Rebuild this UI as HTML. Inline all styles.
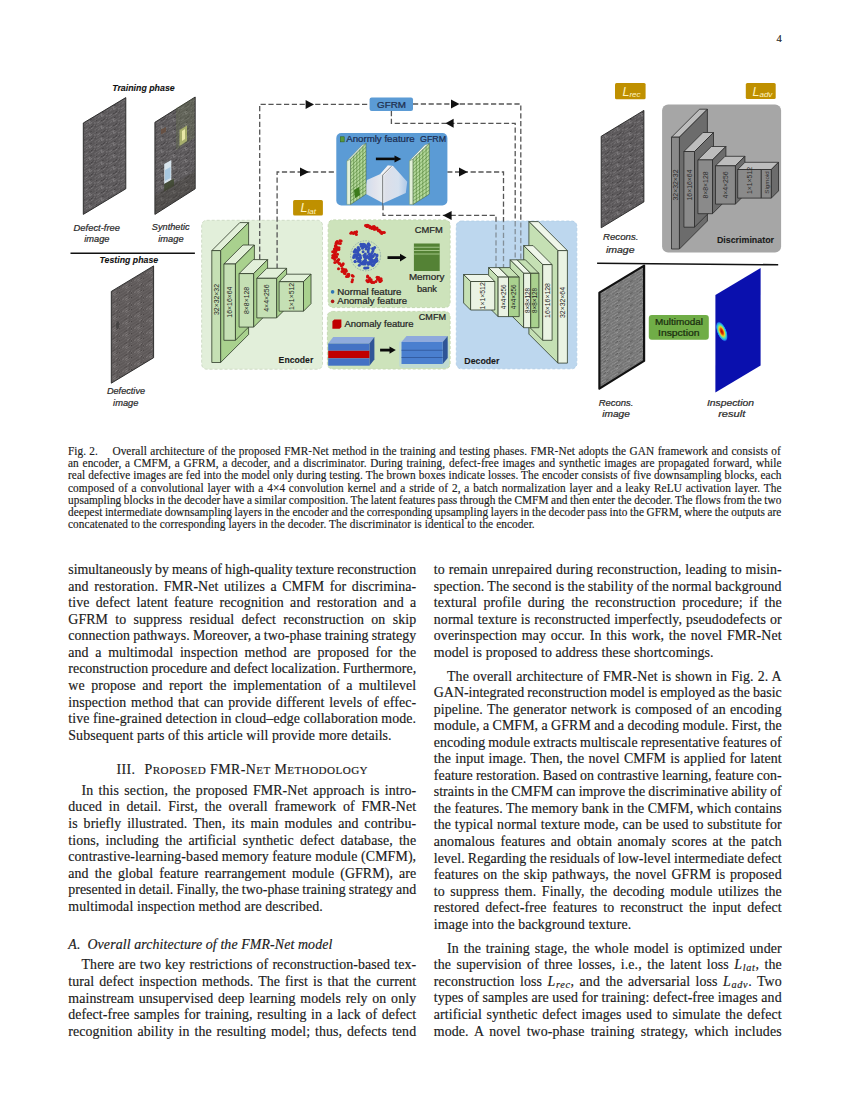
<!DOCTYPE html>
<html><head><meta charset="utf-8"><style>
*{margin:0;padding:0;box-sizing:border-box}
html,body{width:850px;height:1100px;background:#fff;overflow:hidden}
body{position:relative;font-family:"Liberation Serif",serif;color:#202020}
.ln{-webkit-text-stroke:0.16px #202020}
.ln{position:absolute;white-space:nowrap;overflow:visible}
.j{text-align:left}
.l{text-align:left}
.c{text-align:center}
.sc{font-size:0.8em}
i.m{font-style:italic}
sub.ms{font-style:italic;font-size:0.74em;vertical-align:-0.22em;line-height:0;letter-spacing:0.6px}
i.m{letter-spacing:0.8px}
#fig{position:absolute;left:0;top:0}
</style></head>
<body>
<svg id="fig" width="850" height="440" viewBox="0 0 850 440">
<defs>
<pattern id="tex" width="12" height="12" patternUnits="userSpaceOnUse" patternTransform="skewY(-31)"><rect width="12" height="12" fill="rgb(90, 87, 89)"/><rect y="0" width="12" height="1" fill="rgb(100,97,99)"/><rect y="3" width="12" height="1" fill="rgb(108,105,107)"/><rect y="6" width="12" height="1" fill="rgb(108,105,107)"/><rect y="9" width="12" height="1" fill="rgb(100,97,99)"/><rect x="5" y="9" width="3" height="1" fill="rgb(124, 121, 123)"/><rect x="9" y="1" width="1" height="1" fill="rgb(106, 103, 105)"/><rect x="4" y="8" width="1" height="1" fill="rgb(70, 67, 69)"/><rect x="11" y="7" width="3" height="1" fill="rgb(106, 103, 105)"/><rect x="10" y="2" width="1" height="1" fill="rgb(124, 121, 123)"/><rect x="2" y="8" width="3" height="1" fill="rgb(124, 121, 123)"/><rect x="0" y="10" width="1" height="1" fill="rgb(70, 67, 69)"/><rect x="9" y="0" width="2" height="1" fill="rgb(64, 61, 63)"/><rect x="4" y="7" width="3" height="1" fill="rgb(124, 121, 123)"/><rect x="6" y="6" width="3" height="1" fill="rgb(70, 67, 69)"/><rect x="5" y="1" width="1" height="1" fill="rgb(70, 67, 69)"/><rect x="7" y="3" width="2" height="1" fill="rgb(124, 121, 123)"/><rect x="6" y="10" width="2" height="1" fill="rgb(106, 103, 105)"/><rect x="8" y="6" width="2" height="1" fill="rgb(114, 111, 113)"/><rect x="9" y="6" width="1" height="1" fill="rgb(76, 73, 75)"/><rect x="10" y="0" width="2" height="1" fill="rgb(114, 111, 113)"/><rect x="10" y="11" width="1" height="1" fill="rgb(124, 121, 123)"/><rect x="5" y="8" width="1" height="1" fill="rgb(124, 121, 123)"/><rect x="10" y="3" width="2" height="1" fill="rgb(76, 73, 75)"/><rect x="1" y="1" width="3" height="1" fill="rgb(124, 121, 123)"/><rect x="7" y="1" width="2" height="1" fill="rgb(64, 61, 63)"/><rect x="6" y="2" width="1" height="1" fill="rgb(76, 73, 75)"/><rect x="6" y="6" width="1" height="1" fill="rgb(64, 61, 63)"/><rect x="9" y="9" width="1" height="1" fill="rgb(106, 103, 105)"/><rect x="11" y="9" width="2" height="1" fill="rgb(114, 111, 113)"/><rect x="4" y="8" width="1" height="1" fill="rgb(64, 61, 63)"/></pattern>
<pattern id="tex2" width="12" height="12" patternUnits="userSpaceOnUse" patternTransform="skewY(-31)"><rect width="12" height="12" fill="rgb(94, 89, 89)"/><rect y="0" width="12" height="1" fill="rgb(108,103,103)"/><rect y="3" width="12" height="1" fill="rgb(104,99,99)"/><rect y="6" width="12" height="1" fill="rgb(104,99,99)"/><rect y="9" width="12" height="1" fill="rgb(104,99,99)"/><rect x="9" y="8" width="1" height="1" fill="rgb(74, 69, 69)"/><rect x="6" y="4" width="2" height="1" fill="rgb(74, 69, 69)"/><rect x="11" y="0" width="2" height="1" fill="rgb(80, 75, 75)"/><rect x="5" y="2" width="3" height="1" fill="rgb(110, 105, 105)"/><rect x="7" y="8" width="3" height="1" fill="rgb(128, 123, 123)"/><rect x="9" y="10" width="1" height="1" fill="rgb(118, 113, 113)"/><rect x="8" y="4" width="3" height="1" fill="rgb(128, 123, 123)"/><rect x="11" y="11" width="1" height="1" fill="rgb(80, 75, 75)"/><rect x="6" y="4" width="2" height="1" fill="rgb(118, 113, 113)"/><rect x="5" y="0" width="3" height="1" fill="rgb(118, 113, 113)"/><rect x="5" y="0" width="3" height="1" fill="rgb(118, 113, 113)"/><rect x="9" y="10" width="1" height="1" fill="rgb(68, 63, 63)"/><rect x="10" y="10" width="2" height="1" fill="rgb(110, 105, 105)"/><rect x="5" y="10" width="2" height="1" fill="rgb(118, 113, 113)"/><rect x="11" y="4" width="3" height="1" fill="rgb(68, 63, 63)"/><rect x="9" y="0" width="1" height="1" fill="rgb(80, 75, 75)"/><rect x="4" y="10" width="3" height="1" fill="rgb(80, 75, 75)"/><rect x="9" y="9" width="2" height="1" fill="rgb(74, 69, 69)"/><rect x="5" y="2" width="2" height="1" fill="rgb(80, 75, 75)"/><rect x="9" y="4" width="2" height="1" fill="rgb(110, 105, 105)"/><rect x="1" y="0" width="1" height="1" fill="rgb(80, 75, 75)"/><rect x="8" y="3" width="2" height="1" fill="rgb(74, 69, 69)"/><rect x="5" y="2" width="3" height="1" fill="rgb(128, 123, 123)"/><rect x="11" y="1" width="1" height="1" fill="rgb(118, 113, 113)"/><rect x="5" y="5" width="1" height="1" fill="rgb(110, 105, 105)"/><rect x="2" y="1" width="2" height="1" fill="rgb(128, 123, 123)"/></pattern>
<pattern id="tex3" width="12" height="12" patternUnits="userSpaceOnUse" patternTransform="skewY(-31)"><rect width="12" height="12" fill="rgb(118, 118, 118)"/><rect y="0" width="12" height="1" fill="rgb(136,136,136)"/><rect y="3" width="12" height="1" fill="rgb(128,128,128)"/><rect y="6" width="12" height="1" fill="rgb(136,136,136)"/><rect y="9" width="12" height="1" fill="rgb(132,132,132)"/><rect x="4" y="3" width="1" height="1" fill="rgb(92, 92, 92)"/><rect x="8" y="3" width="2" height="1" fill="rgb(142, 142, 142)"/><rect x="2" y="4" width="2" height="1" fill="rgb(152, 152, 152)"/><rect x="1" y="9" width="2" height="1" fill="rgb(142, 142, 142)"/><rect x="2" y="6" width="2" height="1" fill="rgb(142, 142, 142)"/><rect x="4" y="7" width="2" height="1" fill="rgb(152, 152, 152)"/><rect x="6" y="4" width="3" height="1" fill="rgb(142, 142, 142)"/><rect x="6" y="0" width="3" height="1" fill="rgb(98, 98, 98)"/><rect x="3" y="0" width="3" height="1" fill="rgb(142, 142, 142)"/><rect x="8" y="6" width="1" height="1" fill="rgb(92, 92, 92)"/><rect x="11" y="7" width="2" height="1" fill="rgb(142, 142, 142)"/><rect x="5" y="3" width="1" height="1" fill="rgb(142, 142, 142)"/><rect x="4" y="1" width="1" height="1" fill="rgb(92, 92, 92)"/><rect x="0" y="11" width="1" height="1" fill="rgb(134, 134, 134)"/><rect x="9" y="0" width="1" height="1" fill="rgb(134, 134, 134)"/><rect x="11" y="1" width="1" height="1" fill="rgb(142, 142, 142)"/><rect x="4" y="3" width="1" height="1" fill="rgb(142, 142, 142)"/><rect x="8" y="6" width="1" height="1" fill="rgb(142, 142, 142)"/><rect x="1" y="5" width="1" height="1" fill="rgb(104, 104, 104)"/><rect x="8" y="7" width="1" height="1" fill="rgb(104, 104, 104)"/><rect x="3" y="3" width="1" height="1" fill="rgb(142, 142, 142)"/><rect x="1" y="2" width="1" height="1" fill="rgb(104, 104, 104)"/><rect x="2" y="0" width="3" height="1" fill="rgb(152, 152, 152)"/><rect x="9" y="6" width="1" height="1" fill="rgb(104, 104, 104)"/><rect x="3" y="4" width="3" height="1" fill="rgb(92, 92, 92)"/><rect x="7" y="5" width="1" height="1" fill="rgb(92, 92, 92)"/></pattern>

<pattern id="grid" width="3.2" height="3.2" patternUnits="userSpaceOnUse" patternTransform="skewY(-45)">
  <rect width="3.2" height="3.2" fill="#b8dca0"/>
  <rect width="3.2" height="0.55" fill="#4f7a34"/>
  <rect width="0.55" height="3.2" fill="#4f7a34"/>
</pattern>
<linearGradient id="prism" x1="0" y1="0" x2="1" y2="0">
  <stop offset="0" stop-color="#d6e2f0"/>
  <stop offset="0.25" stop-color="#ebe8ee"/>
  <stop offset="0.42" stop-color="#f2f2f2"/>
  <stop offset="0.5" stop-color="#e6e4ea"/>
  <stop offset="0.8" stop-color="#dfe6f0"/>
  <stop offset="1" stop-color="#b4cdea"/>
</linearGradient>
<radialGradient id="hot" cx="0.5" cy="0.5" r="0.5">
  <stop offset="0" stop-color="#b00000"/>
  <stop offset="0.25" stop-color="#e04000"/>
  <stop offset="0.45" stop-color="#f0d020"/>
  <stop offset="0.65" stop-color="#40e0c0"/>
  <stop offset="0.85" stop-color="#2080f0"/>
  <stop offset="1" stop-color="#0a10ae" stop-opacity="0"/>
</radialGradient>
</defs>
<text x="112.2" y="90.5" font-family="Liberation Sans, sans-serif" font-size="9.4" fill="#111" font-weight="bold" font-style="italic" textLength="62.5" lengthAdjust="spacingAndGlyphs" stroke="#111" stroke-width="0.1" >Training phase</text>
<polygon points="83.3,123.0 125.8,97.6 125.8,188.8 83.3,214.4" fill="url(#tex)" stroke="#222" stroke-width="0.9" stroke-linejoin="round" />
<polygon points="154.9,122.3 195.2,97.0 195.2,188.8 154.9,214.4" fill="url(#tex)" stroke="#222" stroke-width="0.9" stroke-linejoin="round" />
<polygon points="176.0,108.0 194.5,97.5 194.5,138.0 176.0,150.0" fill="#6a7a4a" opacity="0.25"/>
<polygon points="179.5,130.0 187.0,125.5 187.0,141.0 179.5,146.0" fill="#b8c070" opacity="0.8"/>
<polygon points="182.0,131.0 185.0,129.0 185.0,139.0 182.0,141.0" fill="#e8e8a8" />
<polygon points="161.0,129.5 166.0,127.0 166.0,132.0 161.0,134.5" fill="#6a5040" opacity="0.8"/>
<polygon points="164.2,164.0 171.3,160.0 171.3,180.0 164.2,184.0" fill="#d8e4ec" />
<polygon points="165.0,170.0 170.5,167.0 170.5,178.0 165.0,181.0" fill="#a8c8e0" />
<polygon points="164.2,184.0 174.0,178.5 174.0,186.0 164.2,191.5" fill="#3e4a30" opacity="0.8"/>
<polygon points="155.0,195.0 195.0,171.0 195.0,188.8 155.0,214.0" fill="#3c3830" opacity="0.35"/>
<text x="73.6" y="230.5" font-family="Liberation Sans, sans-serif" font-size="9.4" fill="#2a2a2a" font-weight="normal" font-style="italic" textLength="46.4" lengthAdjust="spacingAndGlyphs" stroke="#2a2a2a" stroke-width="0.22" >Defect-free</text>
<text x="84.2" y="242.3" font-family="Liberation Sans, sans-serif" font-size="9.4" fill="#2a2a2a" font-weight="normal" font-style="italic" textLength="25.3" lengthAdjust="spacingAndGlyphs" stroke="#2a2a2a" stroke-width="0.22" >image</text>
<text x="151.8" y="229.9" font-family="Liberation Sans, sans-serif" font-size="9.4" fill="#2a2a2a" font-weight="normal" font-style="italic" textLength="37.8" lengthAdjust="spacingAndGlyphs" stroke="#2a2a2a" stroke-width="0.22" >Synthetic</text>
<text x="158.2" y="242.0" font-family="Liberation Sans, sans-serif" font-size="9.4" fill="#2a2a2a" font-weight="normal" font-style="italic" textLength="25.4" lengthAdjust="spacingAndGlyphs" stroke="#2a2a2a" stroke-width="0.22" >image</text>
<line x1="70.5" y1="253.2" x2="194.9" y2="253.2" stroke="#111" stroke-width="1.6"/>
<text x="99.6" y="262.6" font-family="Liberation Sans, sans-serif" font-size="9.4" fill="#111" font-weight="bold" font-style="italic" textLength="58.6" lengthAdjust="spacingAndGlyphs" stroke="#111" stroke-width="0.1" >Testing phase</text>
<polygon points="111.3,291.4 153.6,265.9 153.6,357.7 111.3,383.2" fill="url(#tex2)" stroke="#222" stroke-width="0.9" stroke-linejoin="round" />
<ellipse cx="117.5" cy="325" rx="1.6" ry="4" fill="#333" opacity="0.55"/>
<text x="106.9" y="394.0" font-family="Liberation Sans, sans-serif" font-size="9.4" fill="#2a2a2a" font-weight="normal" font-style="italic" textLength="38.2" lengthAdjust="spacingAndGlyphs" stroke="#2a2a2a" stroke-width="0.22" >Defective</text>
<text x="113.1" y="405.9" font-family="Liberation Sans, sans-serif" font-size="9.4" fill="#2a2a2a" font-weight="normal" font-style="italic" textLength="25.4" lengthAdjust="spacingAndGlyphs" stroke="#2a2a2a" stroke-width="0.22" >image</text>
<rect x="201.7" y="220.3" width="120.8" height="148.9" rx="5" fill="#e2efda" stroke="#cfdcc6" stroke-width="1" stroke-dasharray="3,2"/>
<rect x="328.2" y="219.9" width="121.9" height="87.7" rx="5" fill="#cde3bb" stroke="#c4d9b2" stroke-width="1" stroke-dasharray="3,2"/>
<rect x="327.4" y="311.4" width="122.7" height="57.6" rx="5" fill="#cde3bb" stroke="#c4d9b2" stroke-width="1" stroke-dasharray="3,2"/>
<rect x="456.3" y="221.1" width="120.5" height="147.7" rx="5" fill="#bdd7ee" stroke="#b3cfe8" stroke-width="1" stroke-dasharray="3,2"/>
<polyline points="259.7,259.5 259.7,104.4 369.6,104.4" fill="none" stroke="#555" stroke-width="1.3" stroke-dasharray="5.2,2.6"/>
<polygon points="305.6,99.9 314.0,104.4 305.6,108.9" fill="#111" />
<polyline points="413.0,104.0 520.8,104.0 520.8,260.5" fill="none" stroke="#555" stroke-width="1.3" stroke-dasharray="5.2,2.6"/>
<polygon points="451.0,99.5 459.5,104.0 451.0,108.5" fill="#111" />
<polyline points="391.4,111.0 391.4,123.3 515.2,123.3 515.2,260.5" fill="none" stroke="#555" stroke-width="1.3" stroke-dasharray="5.2,2.6"/>
<polygon points="453.6,118.8 445.5,123.3 453.6,127.8" fill="#111" />
<polyline points="277.1,268.6 277.1,172.0 336.4,172.0" fill="none" stroke="#555" stroke-width="1.3" stroke-dasharray="5.2,2.6"/>
<polygon points="300.0,167.5 309.0,172.0 300.0,176.5" fill="#111" />
<polyline points="447.2,172.0 503.5,172.0 503.5,267.5" fill="none" stroke="#555" stroke-width="1.3" stroke-dasharray="5.2,2.6"/>
<polygon points="459.0,167.5 467.7,172.0 459.0,176.5" fill="#111" />
<polyline points="383.0,205.0 383.0,215.4 496.0,215.4 496.0,267.5" fill="none" stroke="#555" stroke-width="1.3" stroke-dasharray="5.2,2.6"/>
<polygon points="451.6,210.9 443.0,215.4 451.6,219.9" fill="#111" />
<rect x="456.8" y="221.6" width="119.5" height="146.7" rx="5" fill="#bdd7ee" opacity="0.45"/>
<polygon points="211.8,250.6 239.8,222.6 248.6,222.6 220.6,250.6" fill="#e2f0d9" stroke="#2f3b28" stroke-width="0.8" stroke-linejoin="round" /><polygon points="220.6,250.6 248.6,222.6 248.6,334.5 220.6,362.5" fill="#a9d18e" stroke="#2f3b28" stroke-width="0.8" stroke-linejoin="round" /><polygon points="211.8,250.6 220.6,250.6 220.6,362.5 211.8,362.5" fill="#c5e0b4" stroke="#2f3b28" stroke-width="0.8" stroke-linejoin="round" /><text x="216.2" y="299.5" font-family="Liberation Sans, sans-serif" font-size="6.9" fill="#222" text-anchor="middle" dominant-baseline="central" transform="rotate(-90 216.2 299.5)">32×32×32</text>
<polygon points="223.9,264.0 242.9,245.0 254.4,245.0 235.4,264.0" fill="#e2f0d9" stroke="#2f3b28" stroke-width="0.8" stroke-linejoin="round" /><polygon points="235.4,264.0 254.4,245.0 254.4,321.3 235.4,340.3" fill="#a9d18e" stroke="#2f3b28" stroke-width="0.8" stroke-linejoin="round" /><polygon points="223.9,264.0 235.4,264.0 235.4,340.3 223.9,340.3" fill="#c5e0b4" stroke="#2f3b28" stroke-width="0.8" stroke-linejoin="round" /><text x="229.7" y="302.1" font-family="Liberation Sans, sans-serif" font-size="6.9" fill="#222" text-anchor="middle" dominant-baseline="central" transform="rotate(-90 229.7 302.1)">16×16×64</text>
<polygon points="239.1,273.6 253.1,259.6 267.6,259.6 253.6,273.6" fill="#e2f0d9" stroke="#2f3b28" stroke-width="0.8" stroke-linejoin="round" /><polygon points="253.6,273.6 267.6,259.6 267.6,313.1 253.6,327.1" fill="#a9d18e" stroke="#2f3b28" stroke-width="0.8" stroke-linejoin="round" /><polygon points="239.1,273.6 253.6,273.6 253.6,327.1 239.1,327.1" fill="#c5e0b4" stroke="#2f3b28" stroke-width="0.8" stroke-linejoin="round" /><text x="246.3" y="300.4" font-family="Liberation Sans, sans-serif" font-size="6.9" fill="#222" text-anchor="middle" dominant-baseline="central" transform="rotate(-90 246.3 300.4)">8×8×128</text>
<polygon points="256.8,278.3 266.8,268.3 286.6,268.3 276.6,278.3" fill="#e2f0d9" stroke="#2f3b28" stroke-width="0.8" stroke-linejoin="round" /><polygon points="276.6,278.3 286.6,268.3 286.6,307.9 276.6,317.9" fill="#a9d18e" stroke="#2f3b28" stroke-width="0.8" stroke-linejoin="round" /><polygon points="256.8,278.3 276.6,278.3 276.6,317.9 256.8,317.9" fill="#c5e0b4" stroke="#2f3b28" stroke-width="0.8" stroke-linejoin="round" /><text x="266.7" y="298.1" font-family="Liberation Sans, sans-serif" font-size="6.9" fill="#222" text-anchor="middle" dominant-baseline="central" transform="rotate(-90 266.7 298.1)">4×4×256</text>
<polygon points="279.1,281.7 286.6,274.2 311.0,274.2 303.5,281.7" fill="#e2f0d9" stroke="#2f3b28" stroke-width="0.8" stroke-linejoin="round" /><polygon points="303.5,281.7 311.0,274.2 311.0,303.7 303.5,311.2" fill="#a9d18e" stroke="#2f3b28" stroke-width="0.8" stroke-linejoin="round" /><polygon points="279.1,281.7 303.5,281.7 303.5,311.2 279.1,311.2" fill="#c5e0b4" stroke="#2f3b28" stroke-width="0.8" stroke-linejoin="round" /><text x="291.3" y="296.4" font-family="Liberation Sans, sans-serif" font-size="6.9" fill="#222" text-anchor="middle" dominant-baseline="central" transform="rotate(-90 291.3 296.4)">1×1×512</text>
<text x="278.6" y="363.0" font-family="Liberation Sans, sans-serif" font-size="9.8" fill="#1a1a1a" font-weight="bold" font-style="normal" textLength="34.7" lengthAdjust="spacingAndGlyphs" stroke="#1a1a1a" stroke-width="0.1" >Encoder</text>
<rect x="293.1" y="200.1" width="29.8" height="15.5" rx="1.5" fill="#bf9000"/>
<text x="300.5" y="212.0" font-family="Liberation Sans, sans-serif" font-size="12.5" fill="#fff4c0" font-style="italic">L<tspan font-size="8" dy="1.8">lat</tspan></text>
<polygon points="557.9,250.6 528.9,221.6 538.4,221.6 567.4,250.6" fill="#eef6e9" stroke="#2f3b28" stroke-width="0.8" stroke-linejoin="round" /><polygon points="557.9,250.6 528.9,221.6 528.9,334.1 557.9,363.1" fill="#c5e0b4" stroke="#2f3b28" stroke-width="0.8" stroke-linejoin="round" /><polygon points="557.9,250.6 567.4,250.6 567.4,363.1 557.9,363.1" fill="#eaf3e3" stroke="#2f3b28" stroke-width="0.8" stroke-linejoin="round" /><text x="562.6" y="302.5" font-family="Liberation Sans, sans-serif" font-size="6.9" fill="#222" text-anchor="middle" dominant-baseline="central" transform="rotate(-90 562.6 302.5)">32×32×64</text>
<polygon points="542.7,264.6 523.7,245.6 533.1,245.6 552.1,264.6" fill="#eef6e9" stroke="#2f3b28" stroke-width="0.8" stroke-linejoin="round" /><polygon points="542.7,264.6 523.7,245.6 523.7,321.3 542.7,340.3" fill="#c5e0b4" stroke="#2f3b28" stroke-width="0.8" stroke-linejoin="round" /><polygon points="542.7,264.6 552.1,264.6 552.1,340.3 542.7,340.3" fill="#eaf3e3" stroke="#2f3b28" stroke-width="0.8" stroke-linejoin="round" /><text x="547.4" y="300.5" font-family="Liberation Sans, sans-serif" font-size="6.9" fill="#222" text-anchor="middle" dominant-baseline="central" transform="rotate(-90 547.4 300.5)">16×16×128</text>
<polygon points="523.6,273.3 510.1,259.8 517.2,259.8 530.7,273.3" fill="#eef6e9" stroke="#2f3b28" stroke-width="0.8" stroke-linejoin="round" /><polygon points="530.7,273.3 517.2,259.8 525.4,259.8 538.9,273.3" fill="#c5e0b4" stroke="#2f3b28" stroke-width="0.8" stroke-linejoin="round" /><polygon points="523.6,273.3 510.1,259.8 510.1,314.2 523.6,327.7" fill="#c5e0b4" stroke="#2f3b28" stroke-width="0.8" stroke-linejoin="round" /><polygon points="523.6,273.3 530.7,273.3 530.7,327.7 523.6,327.7" fill="#eaf3e3" stroke="#2f3b28" stroke-width="0.8" stroke-linejoin="round" /><polygon points="530.7,273.3 538.9,273.3 538.9,327.7 530.7,327.7" fill="#a9d18e" stroke="#2f3b28" stroke-width="0.8" stroke-linejoin="round" /><text x="527.2" y="300.5" font-family="Liberation Sans, sans-serif" font-size="6.3" fill="#222" text-anchor="middle" dominant-baseline="central" transform="rotate(-90 527.2 300.5)">8×8×128</text><text x="534.8" y="300.5" font-family="Liberation Sans, sans-serif" font-size="6.3" fill="#222" text-anchor="middle" dominant-baseline="central" transform="rotate(-90 534.8 300.5)">8×8×128</text>
<polygon points="498.1,277.1 488.6,267.6 499.0,267.6 508.5,277.1" fill="#eef6e9" stroke="#2f3b28" stroke-width="0.8" stroke-linejoin="round" /><polygon points="508.5,277.1 499.0,267.6 509.7,267.6 519.2,277.1" fill="#c5e0b4" stroke="#2f3b28" stroke-width="0.8" stroke-linejoin="round" /><polygon points="498.1,277.1 488.6,267.6 488.6,307.1 498.1,316.6" fill="#c5e0b4" stroke="#2f3b28" stroke-width="0.8" stroke-linejoin="round" /><polygon points="498.1,277.1 508.5,277.1 508.5,316.6 498.1,316.6" fill="#eaf3e3" stroke="#2f3b28" stroke-width="0.8" stroke-linejoin="round" /><polygon points="508.5,277.1 519.2,277.1 519.2,316.6 508.5,316.6" fill="#a9d18e" stroke="#2f3b28" stroke-width="0.8" stroke-linejoin="round" /><text x="503.3" y="296.9" font-family="Liberation Sans, sans-serif" font-size="6.3" fill="#222" text-anchor="middle" dominant-baseline="central" transform="rotate(-90 503.3 296.9)">4×4×256</text><text x="513.9" y="296.9" font-family="Liberation Sans, sans-serif" font-size="6.3" fill="#222" text-anchor="middle" dominant-baseline="central" transform="rotate(-90 513.9 296.9)">4×4×256</text>
<polygon points="470.6,281.5 463.6,274.5 487.8,274.5 494.8,281.5" fill="#eef6e9" stroke="#2f3b28" stroke-width="0.8" stroke-linejoin="round" /><polygon points="470.6,281.5 463.6,274.5 463.6,303.0 470.6,310.0" fill="#c5e0b4" stroke="#2f3b28" stroke-width="0.8" stroke-linejoin="round" /><polygon points="470.6,281.5 494.8,281.5 494.8,310.0 470.6,310.0" fill="#eaf3e3" stroke="#2f3b28" stroke-width="0.8" stroke-linejoin="round" /><text x="482.7" y="295.8" font-family="Liberation Sans, sans-serif" font-size="6.9" fill="#222" text-anchor="middle" dominant-baseline="central" transform="rotate(-90 482.7 295.8)">1×1×512</text>
<text x="464.3" y="364.3" font-family="Liberation Sans, sans-serif" font-size="9.8" fill="#1a1a1a" font-weight="bold" font-style="normal" textLength="35.1" lengthAdjust="spacingAndGlyphs" stroke="#1a1a1a" stroke-width="0.1" >Decoder</text>
<rect x="369.6" y="97.4" width="43.4" height="13.6" rx="2" fill="#5b9bd5"/>
<text x="377.0" y="107.9" font-family="Liberation Sans, sans-serif" font-size="8.2" fill="#1f2f4f" font-weight="normal" font-style="normal" textLength="29.0" lengthAdjust="spacingAndGlyphs" stroke="#1f2f4f" stroke-width="0.22" >GFRM</text>
<rect x="336.3" y="133.1" width="111.1" height="72.3" rx="5" fill="#5b9bd5"/>
<rect x="340.3" y="136.8" width="3.9" height="5.1" fill="#5a9a3a" stroke="#2a5a1a" stroke-width="0.5"/>
<text x="346.2" y="141.8" font-family="Liberation Sans, sans-serif" font-size="8.4" fill="#1c2e52" font-weight="normal" font-style="normal" textLength="68.4" lengthAdjust="spacingAndGlyphs" stroke="#1c2e52" stroke-width="0.22" >Anormly feature</text>
<text x="420.0" y="141.8" font-family="Liberation Sans, sans-serif" font-size="8.4" fill="#1c2e52" font-weight="normal" font-style="normal" textLength="26.2" lengthAdjust="spacingAndGlyphs" stroke="#1c2e52" stroke-width="0.22" >GFRM</text>
<polygon points="364.2,193.0 367.0,180.0 380.4,174.0 387.8,165.6 393.1,166.0 407.2,181.8 405.8,193.1 383.2,203.2" fill="url(#prism)" opacity="0.93"/>
<polygon points="380.4,174.0 387.8,165.6 393.1,166.0 384.5,175.0" fill="#f6f6f6" opacity="0.8"/>
<polyline points="391.5,166.2 382.6,175.2 382.6,205.5" fill="none" stroke="#555" stroke-width="0.7"/>
<polygon points="346.9,161.0 362.3,145.0 366.0,143.4 350.6,159.2" fill="#f0f7ec" stroke="#6a8a5a" stroke-width="0.4" stroke-linejoin="round" />
<polygon points="346.9,161.0 350.6,159.2 350.6,204.4 346.9,204.4" fill="#e2f0d9" stroke="#6a8a5a" stroke-width="0.4" stroke-linejoin="round" />
<polygon points="350.6,159.2 366.0,143.4 366.0,194.1 350.6,204.4" fill="#b5d99c" stroke="#3d5a2c" stroke-width="0.5" stroke-linejoin="round" />
<path d="M353.7,156.0L353.7,202.3M356.8,152.9L356.8,200.3M359.8,149.7L359.8,198.2M362.9,146.6L362.9,196.2M350.6,162.7L366.0,147.3M350.6,166.2L366.0,151.2M350.6,169.6L366.0,155.1M350.6,173.1L366.0,159.0M350.6,176.6L366.0,162.9M350.6,180.1L366.0,166.8M350.6,183.5L366.0,170.7M350.6,187.0L366.0,174.6M350.6,190.5L366.0,178.5M350.6,194.0L366.0,182.4M350.6,197.4L366.0,186.3M350.6,200.9L366.0,190.2" stroke="#4a7a30" stroke-width="0.55" fill="none"/>
<polygon points="409.4,161.0 424.8,145.0 429.3,143.4 413.1,159.2" fill="#f0f7ec" stroke="#6a8a5a" stroke-width="0.4" stroke-linejoin="round" />
<polygon points="409.4,161.0 413.1,159.2 413.1,204.4 409.4,204.4" fill="#e2f0d9" stroke="#6a8a5a" stroke-width="0.4" stroke-linejoin="round" />
<polygon points="413.1,159.2 429.3,143.4 429.3,194.1 413.1,204.4" fill="#b5d99c" stroke="#3d5a2c" stroke-width="0.5" stroke-linejoin="round" />
<path d="M416.3,156.0L416.3,202.3M419.6,152.9L419.6,200.3M422.8,149.7L422.8,198.2M426.1,146.6L426.1,196.2M413.1,162.7L429.3,147.3M413.1,166.2L429.3,151.2M413.1,169.6L429.3,155.1M413.1,173.1L429.3,159.0M413.1,176.6L429.3,162.9M413.1,180.1L429.3,166.8M413.1,183.5L429.3,170.7M413.1,187.0L429.3,174.6M413.1,190.5L429.3,178.5M413.1,194.0L429.3,182.4M413.1,197.4L429.3,186.3M413.1,200.9L429.3,190.2" stroke="#4a7a30" stroke-width="0.55" fill="none"/>
<polygon points="354.0,190.0 359.0,187.0 360.0,195.0 355.0,198.0" fill="#3c7a1c" />
<rect x="375.9" y="157.6" width="19" height="2.6" fill="#0a0a0a"/>
<polygon points="394.5,155.4 401.3,158.9 394.5,162.4" fill="#0a0a0a" />
<text x="414.7" y="233.4" font-family="Liberation Sans, sans-serif" font-size="8.4" fill="#262626" font-weight="normal" font-style="normal" textLength="28.0" lengthAdjust="spacingAndGlyphs" stroke="#262626" stroke-width="0.22" >CMFM</text>
<circle cx="365.5" cy="225.5" r="1.5" fill="#d00c0c"/>
<circle cx="367.1" cy="225.3" r="1.5" fill="#d00c0c"/>
<circle cx="367.5" cy="226.2" r="1.5" fill="#d00c0c"/>
<circle cx="366.8" cy="226.6" r="1.5" fill="#d00c0c"/>
<circle cx="367.4" cy="226.5" r="1.5" fill="#d00c0c"/>
<circle cx="368.2" cy="225.6" r="1.5" fill="#d00c0c"/>
<circle cx="369.9" cy="227.8" r="1.5" fill="#d00c0c"/>
<circle cx="369.7" cy="226.3" r="1.5" fill="#d00c0c"/>
<circle cx="371.8" cy="228.5" r="1.5" fill="#d00c0c"/>
<circle cx="372.3" cy="227.1" r="1.5" fill="#d00c0c"/>
<circle cx="374.1" cy="226.4" r="1.5" fill="#d00c0c"/>
<circle cx="374.5" cy="227.3" r="1.5" fill="#d00c0c"/>
<circle cx="373.2" cy="227.0" r="1.5" fill="#d00c0c"/>
<circle cx="374.3" cy="229.3" r="1.5" fill="#d00c0c"/>
<circle cx="374.6" cy="228.9" r="1.5" fill="#d00c0c"/>
<circle cx="376.6" cy="228.7" r="1.5" fill="#d00c0c"/>
<circle cx="377.0" cy="228.1" r="1.5" fill="#d00c0c"/>
<circle cx="376.3" cy="228.9" r="1.5" fill="#d00c0c"/>
<circle cx="378.7" cy="229.9" r="1.5" fill="#d00c0c"/>
<circle cx="378.4" cy="230.8" r="1.5" fill="#d00c0c"/>
<circle cx="379.5" cy="230.4" r="1.5" fill="#d00c0c"/>
<circle cx="381.1" cy="232.0" r="1.5" fill="#d00c0c"/>
<circle cx="380.2" cy="232.1" r="1.5" fill="#d00c0c"/>
<circle cx="381.7" cy="233.5" r="1.5" fill="#d00c0c"/>
<circle cx="383.0" cy="232.4" r="1.5" fill="#d00c0c"/>
<circle cx="384.3" cy="232.4" r="1.5" fill="#d00c0c"/>
<circle cx="353.4" cy="233.6" r="1.5" fill="#d00c0c"/>
<circle cx="351.6" cy="232.5" r="1.5" fill="#d00c0c"/>
<circle cx="350.8" cy="233.2" r="1.5" fill="#d00c0c"/>
<circle cx="355.9" cy="232.8" r="1.5" fill="#d00c0c"/>
<circle cx="356.6" cy="231.7" r="1.5" fill="#d00c0c"/>
<circle cx="355.4" cy="232.9" r="1.5" fill="#d00c0c"/>
<circle cx="354.6" cy="232.3" r="1.5" fill="#d00c0c"/>
<circle cx="356.4" cy="234.5" r="1.5" fill="#d00c0c"/>
<circle cx="339.9" cy="240.8" r="1.5" fill="#d00c0c"/>
<circle cx="337.3" cy="241.6" r="1.5" fill="#d00c0c"/>
<circle cx="340.3" cy="243.6" r="1.5" fill="#d00c0c"/>
<circle cx="341.1" cy="240.9" r="1.5" fill="#d00c0c"/>
<circle cx="338.4" cy="243.3" r="1.5" fill="#d00c0c"/>
<circle cx="336.1" cy="243.0" r="1.5" fill="#d00c0c"/>
<circle cx="336.7" cy="242.0" r="1.5" fill="#d00c0c"/>
<circle cx="335.9" cy="245.7" r="1.5" fill="#d00c0c"/>
<circle cx="336.0" cy="243.9" r="1.5" fill="#d00c0c"/>
<circle cx="337.2" cy="247.5" r="1.5" fill="#d00c0c"/>
<circle cx="335.3" cy="246.1" r="1.5" fill="#d00c0c"/>
<circle cx="337.7" cy="248.8" r="1.5" fill="#d00c0c"/>
<circle cx="338.9" cy="249.4" r="1.5" fill="#d00c0c"/>
<circle cx="335.7" cy="247.8" r="1.5" fill="#d00c0c"/>
<circle cx="335.9" cy="250.7" r="1.5" fill="#d00c0c"/>
<circle cx="339.0" cy="247.8" r="1.5" fill="#d00c0c"/>
<circle cx="334.4" cy="248.9" r="1.5" fill="#d00c0c"/>
<circle cx="334.5" cy="250.7" r="1.5" fill="#d00c0c"/>
<circle cx="336.2" cy="250.3" r="1.5" fill="#d00c0c"/>
<circle cx="332.7" cy="251.7" r="1.5" fill="#d00c0c"/>
<circle cx="334.5" cy="253.0" r="1.5" fill="#d00c0c"/>
<circle cx="337.5" cy="254.2" r="1.5" fill="#d00c0c"/>
<circle cx="334.8" cy="254.5" r="1.5" fill="#d00c0c"/>
<circle cx="335.5" cy="252.5" r="1.5" fill="#d00c0c"/>
<circle cx="336.5" cy="256.6" r="1.5" fill="#d00c0c"/>
<circle cx="336.1" cy="257.3" r="1.5" fill="#d00c0c"/>
<circle cx="333.8" cy="256.0" r="1.5" fill="#d00c0c"/>
<circle cx="332.6" cy="257.7" r="1.5" fill="#d00c0c"/>
<circle cx="332.8" cy="255.6" r="1.5" fill="#d00c0c"/>
<circle cx="334.1" cy="256.7" r="1.5" fill="#d00c0c"/>
<circle cx="335.3" cy="256.8" r="1.5" fill="#d00c0c"/>
<circle cx="333.8" cy="257.9" r="1.5" fill="#d00c0c"/>
<circle cx="334.8" cy="259.5" r="1.5" fill="#d00c0c"/>
<circle cx="334.8" cy="262.6" r="1.5" fill="#d00c0c"/>
<circle cx="338.6" cy="259.6" r="1.5" fill="#d00c0c"/>
<circle cx="337.0" cy="261.2" r="1.5" fill="#d00c0c"/>
<circle cx="338.1" cy="260.6" r="1.5" fill="#d00c0c"/>
<circle cx="341.4" cy="265.7" r="1.5" fill="#d00c0c"/>
<circle cx="339.6" cy="263.7" r="1.5" fill="#d00c0c"/>
<circle cx="337.7" cy="262.3" r="1.5" fill="#d00c0c"/>
<circle cx="339.7" cy="263.7" r="1.5" fill="#d00c0c"/>
<circle cx="343.2" cy="263.8" r="1.5" fill="#d00c0c"/>
<circle cx="338.5" cy="268.7" r="1.5" fill="#d00c0c"/>
<circle cx="342.2" cy="264.9" r="1.5" fill="#d00c0c"/>
<circle cx="342.7" cy="264.8" r="1.5" fill="#d00c0c"/>
<circle cx="343.1" cy="270.8" r="1.5" fill="#d00c0c"/>
<circle cx="345.8" cy="269.8" r="1.5" fill="#d00c0c"/>
<circle cx="342.2" cy="268.5" r="1.5" fill="#d00c0c"/>
<circle cx="342.0" cy="271.5" r="1.5" fill="#d00c0c"/>
<circle cx="344.9" cy="272.2" r="1.5" fill="#d00c0c"/>
<circle cx="344.0" cy="269.4" r="1.5" fill="#d00c0c"/>
<circle cx="347.8" cy="274.7" r="1.5" fill="#d00c0c"/>
<circle cx="348.5" cy="274.2" r="1.5" fill="#d00c0c"/>
<circle cx="348.8" cy="274.4" r="1.5" fill="#d00c0c"/>
<circle cx="345.0" cy="273.6" r="1.5" fill="#d00c0c"/>
<circle cx="346.4" cy="271.1" r="1.5" fill="#d00c0c"/>
<circle cx="344.4" cy="273.3" r="1.5" fill="#d00c0c"/>
<circle cx="346.5" cy="276.6" r="1.5" fill="#d00c0c"/>
<circle cx="352.2" cy="275.6" r="1.5" fill="#d00c0c"/>
<circle cx="352.5" cy="279.8" r="1.5" fill="#d00c0c"/>
<circle cx="353.1" cy="276.3" r="1.5" fill="#d00c0c"/>
<circle cx="348.0" cy="275.9" r="1.5" fill="#d00c0c"/>
<circle cx="348.2" cy="276.3" r="1.5" fill="#d00c0c"/>
<circle cx="352.0" cy="281.8" r="1.5" fill="#d00c0c"/>
<circle cx="378.9" cy="279.4" r="1.5" fill="#d00c0c"/>
<circle cx="375.9" cy="281.6" r="1.5" fill="#d00c0c"/>
<circle cx="366.9" cy="280.6" r="1.5" fill="#d00c0c"/>
<circle cx="380.1" cy="281.5" r="1.5" fill="#d00c0c"/>
<circle cx="377.5" cy="279.3" r="1.5" fill="#d00c0c"/>
<circle cx="368.4" cy="281.5" r="1.5" fill="#d00c0c"/>
<circle cx="370.8" cy="281.6" r="1.5" fill="#d00c0c"/>
<circle cx="381.0" cy="278.8" r="1.5" fill="#d00c0c"/>
<circle cx="371.9" cy="282.6" r="1.5" fill="#d00c0c"/>
<circle cx="377.1" cy="277.2" r="1.5" fill="#d00c0c"/>
<circle cx="367.5" cy="277.1" r="1.5" fill="#d00c0c"/>
<circle cx="380.0" cy="281.6" r="1.5" fill="#d00c0c"/>
<circle cx="367.8" cy="281.8" r="1.5" fill="#d00c0c"/>
<circle cx="381.2" cy="280.6" r="1.5" fill="#d00c0c"/>
<circle cx="371.1" cy="279.8" r="1.5" fill="#d00c0c"/>
<circle cx="367.6" cy="276.1" r="1.5" fill="#d00c0c"/>
<circle cx="381.0" cy="280.5" r="1.5" fill="#d00c0c"/>
<circle cx="373.9" cy="282.5" r="1.5" fill="#d00c0c"/>
<circle cx="372.4" cy="282.1" r="1.5" fill="#d00c0c"/>
<circle cx="378.7" cy="277.5" r="1.5" fill="#d00c0c"/>
<circle cx="369.5" cy="278.1" r="1.5" fill="#d00c0c"/>
<circle cx="369.3" cy="280.1" r="1.5" fill="#d00c0c"/>
<circle cx="365.1" cy="263.9" r="1.5" fill="#3350b8"/>
<circle cx="373.7" cy="264.5" r="1.5" fill="#3350b8"/>
<circle cx="360.5" cy="262.5" r="1.5" fill="#3350b8"/>
<circle cx="355.3" cy="249.9" r="1.5" fill="#3350b8"/>
<circle cx="355.1" cy="261.5" r="1.5" fill="#3350b8"/>
<circle cx="356.5" cy="255.7" r="1.5" fill="#3350b8"/>
<circle cx="363.9" cy="255.5" r="1.5" fill="#3350b8"/>
<circle cx="360.6" cy="257.8" r="1.5" fill="#3350b8"/>
<circle cx="376.8" cy="256.1" r="1.5" fill="#3350b8"/>
<circle cx="369.6" cy="263.4" r="1.5" fill="#3350b8"/>
<circle cx="364.2" cy="246.6" r="1.5" fill="#3350b8"/>
<circle cx="361.5" cy="263.8" r="1.5" fill="#3350b8"/>
<circle cx="355.2" cy="252.0" r="1.5" fill="#3350b8"/>
<circle cx="373.0" cy="261.6" r="1.5" fill="#3350b8"/>
<circle cx="365.7" cy="262.4" r="1.5" fill="#3350b8"/>
<circle cx="366.8" cy="247.0" r="1.5" fill="#3350b8"/>
<circle cx="355.5" cy="251.7" r="1.5" fill="#3350b8"/>
<circle cx="372.7" cy="251.5" r="1.5" fill="#3350b8"/>
<circle cx="358.8" cy="250.0" r="1.5" fill="#3350b8"/>
<circle cx="355.2" cy="255.0" r="1.5" fill="#3350b8"/>
<circle cx="356.9" cy="258.5" r="1.5" fill="#3350b8"/>
<circle cx="353.6" cy="257.5" r="1.5" fill="#3350b8"/>
<circle cx="361.9" cy="244.7" r="1.5" fill="#3350b8"/>
<circle cx="371.6" cy="253.5" r="1.5" fill="#3350b8"/>
<circle cx="354.3" cy="251.4" r="1.5" fill="#3350b8"/>
<circle cx="368.1" cy="251.9" r="1.5" fill="#3350b8"/>
<circle cx="371.6" cy="261.6" r="1.5" fill="#3350b8"/>
<circle cx="371.1" cy="258.5" r="1.5" fill="#3350b8"/>
<circle cx="374.8" cy="260.3" r="1.5" fill="#3350b8"/>
<circle cx="368.1" cy="244.2" r="1.5" fill="#3350b8"/>
<circle cx="371.6" cy="264.5" r="1.5" fill="#3350b8"/>
<circle cx="363.1" cy="251.8" r="1.5" fill="#3350b8"/>
<circle cx="374.7" cy="247.5" r="1.5" fill="#3350b8"/>
<circle cx="367.9" cy="267.8" r="1.5" fill="#3350b8"/>
<circle cx="358.6" cy="261.0" r="1.5" fill="#3350b8"/>
<circle cx="377.0" cy="255.1" r="1.5" fill="#3350b8"/>
<circle cx="369.9" cy="262.8" r="1.5" fill="#3350b8"/>
<circle cx="358.4" cy="255.1" r="1.5" fill="#3350b8"/>
<circle cx="368.0" cy="262.4" r="1.5" fill="#3350b8"/>
<circle cx="365.3" cy="254.1" r="1.5" fill="#3350b8"/>
<circle cx="357.8" cy="253.0" r="1.5" fill="#3350b8"/>
<circle cx="372.8" cy="256.6" r="1.5" fill="#3350b8"/>
<circle cx="359.2" cy="249.5" r="1.5" fill="#3350b8"/>
<circle cx="377.0" cy="260.7" r="1.5" fill="#3350b8"/>
<circle cx="368.5" cy="243.8" r="1.5" fill="#3350b8"/>
<circle cx="370.7" cy="259.7" r="1.5" fill="#3350b8"/>
<circle cx="376.3" cy="258.5" r="1.5" fill="#3350b8"/>
<circle cx="365.0" cy="260.3" r="1.5" fill="#3350b8"/>
<circle cx="355.1" cy="261.4" r="1.5" fill="#3350b8"/>
<circle cx="368.3" cy="250.0" r="1.5" fill="#3350b8"/>
<circle cx="372.7" cy="265.5" r="1.5" fill="#3350b8"/>
<circle cx="356.2" cy="251.3" r="1.5" fill="#3350b8"/>
<circle cx="368.1" cy="257.4" r="1.5" fill="#3350b8"/>
<circle cx="362.5" cy="248.3" r="1.5" fill="#3350b8"/>
<circle cx="376.5" cy="261.1" r="1.5" fill="#3350b8"/>
<circle cx="358.2" cy="247.4" r="1.5" fill="#3350b8"/>
<circle cx="375.6" cy="261.6" r="1.5" fill="#3350b8"/>
<circle cx="376.2" cy="260.5" r="1.5" fill="#3350b8"/>
<circle cx="358.6" cy="257.9" r="1.5" fill="#3350b8"/>
<circle cx="354.2" cy="251.9" r="1.5" fill="#3350b8"/>
<circle cx="365.1" cy="260.3" r="1.5" fill="#3350b8"/>
<circle cx="359.6" cy="254.8" r="1.5" fill="#3350b8"/>
<circle cx="369.5" cy="259.0" r="1.5" fill="#3350b8"/>
<circle cx="370.9" cy="257.5" r="1.5" fill="#3350b8"/>
<circle cx="363.0" cy="262.2" r="1.5" fill="#3350b8"/>
<circle cx="366.0" cy="249.1" r="1.5" fill="#3350b8"/>
<circle cx="360.3" cy="255.8" r="1.5" fill="#3350b8"/>
<circle cx="364.6" cy="257.2" r="1.5" fill="#3350b8"/>
<circle cx="365.6" cy="257.3" r="1.5" fill="#3350b8"/>
<circle cx="364.6" cy="246.6" r="1.5" fill="#3350b8"/>
<circle cx="368.8" cy="263.8" r="1.5" fill="#3350b8"/>
<circle cx="369.3" cy="254.2" r="1.5" fill="#3350b8"/>
<circle cx="369.0" cy="248.3" r="1.5" fill="#3350b8"/>
<circle cx="354.2" cy="256.2" r="1.5" fill="#3350b8"/>
<circle cx="358.6" cy="261.3" r="1.5" fill="#3350b8"/>
<circle cx="360.9" cy="244.3" r="1.5" fill="#3350b8"/>
<circle cx="359.3" cy="265.3" r="1.5" fill="#3350b8"/>
<circle cx="362.9" cy="246.2" r="1.5" fill="#3350b8"/>
<circle cx="359.5" cy="260.0" r="1.5" fill="#3350b8"/>
<circle cx="369.8" cy="257.3" r="1.5" fill="#3350b8"/>
<circle cx="375.3" cy="260.4" r="1.5" fill="#3350b8"/>
<circle cx="365.4" cy="260.8" r="1.5" fill="#3350b8"/>
<circle cx="375.5" cy="261.6" r="1.5" fill="#3350b8"/>
<circle cx="372.6" cy="248.4" r="1.5" fill="#3350b8"/>
<circle cx="364.4" cy="261.8" r="1.5" fill="#3350b8"/>
<circle cx="363.3" cy="264.0" r="1.5" fill="#3350b8"/>
<circle cx="370.2" cy="262.8" r="1.5" fill="#3350b8"/>
<circle cx="364.6" cy="268.0" r="1.5" fill="#3350b8"/>
<circle cx="374.7" cy="254.2" r="1.5" fill="#3350b8"/>
<circle cx="366.0" cy="268.1" r="1.5" fill="#3350b8"/>
<circle cx="362.9" cy="262.7" r="1.5" fill="#3350b8"/>
<circle cx="373.3" cy="255.9" r="1.5" fill="#3350b8"/>
<circle cx="356.8" cy="257.2" r="1.5" fill="#3350b8"/>
<circle cx="368.3" cy="264.3" r="1.5" fill="#3350b8"/>
<circle cx="372.0" cy="256.0" r="1.5" fill="#3350b8"/>
<circle cx="372.3" cy="260.0" r="1.5" fill="#3350b8"/>
<circle cx="367.4" cy="256.3" r="1.5" fill="#3350b8"/>
<circle cx="363.6" cy="261.5" r="1.5" fill="#3350b8"/>
<circle cx="357.8" cy="251.1" r="1.5" fill="#3350b8"/>
<circle cx="365.6" cy="245.7" r="1.5" fill="#3350b8"/>
<circle cx="363.1" cy="244.3" r="1.5" fill="#3350b8"/>
<circle cx="360.1" cy="260.4" r="1.5" fill="#3350b8"/>
<circle cx="370.4" cy="255.3" r="1.5" fill="#3350b8"/>
<circle cx="364.0" cy="245.9" r="1.5" fill="#3350b8"/>
<circle cx="376.6" cy="258.9" r="1.5" fill="#3350b8"/>
<circle cx="373.3" cy="249.6" r="1.5" fill="#3350b8"/>
<circle cx="364.5" cy="244.6" r="1.5" fill="#3350b8"/>
<circle cx="371.4" cy="262.7" r="1.5" fill="#3350b8"/>
<circle cx="354.2" cy="255.5" r="1.5" fill="#3350b8"/>
<circle cx="369.4" cy="245.1" r="1.5" fill="#3350b8"/>
<circle cx="355.4" cy="249.8" r="1.5" fill="#3350b8"/>
<circle cx="361.3" cy="246.3" r="1.5" fill="#3350b8"/>
<circle cx="365.9" cy="258.0" r="1.5" fill="#3350b8"/>
<circle cx="370.6" cy="261.4" r="1.5" fill="#3350b8"/>
<circle cx="374.6" cy="262.8" r="1.5" fill="#3350b8"/>
<circle cx="356.4" cy="252.2" r="1.5" fill="#3350b8"/>
<circle cx="358.4" cy="248.5" r="1.5" fill="#3350b8"/>
<circle cx="364.9" cy="255.8" r="1.5" fill="#3350b8"/>
<circle cx="368.8" cy="245.5" r="1.5" fill="#3350b8"/>
<circle cx="356.5" cy="255.6" r="1.5" fill="#3350b8"/>
<circle cx="365.6" cy="255.8" r="15" fill="none" stroke="#6f8fa0" stroke-width="0.6" stroke-dasharray="1.6,1.2"/>
<rect x="387.5" y="256.2" width="13" height="2.8" fill="#0a0a0a"/>
<polygon points="400.0,253.8 406.5,257.6 400.0,261.4" fill="#0a0a0a" />
<rect x="413.9" y="243.5" width="25.8" height="27.5" fill="#548235"/>
<rect x="413.9" y="246.8" width="25.8" height="0.8" fill="#b4d49a"/>
<rect x="413.9" y="250.2" width="25.8" height="0.8" fill="#b4d49a"/>
<rect x="413.9" y="253.6" width="25.8" height="0.8" fill="#b4d49a"/>
<text x="408.9" y="280.1" font-family="Liberation Sans, sans-serif" font-size="8.4" fill="#262626" font-weight="normal" font-style="normal" textLength="35.5" lengthAdjust="spacingAndGlyphs" stroke="#262626" stroke-width="0.22" >Memory</text>
<text x="416.9" y="291.6" font-family="Liberation Sans, sans-serif" font-size="8.4" fill="#262626" font-weight="normal" font-style="normal" textLength="20.1" lengthAdjust="spacingAndGlyphs" stroke="#262626" stroke-width="0.22" >bank</text>
<circle cx="332.6" cy="291.9" r="1.8" fill="#2e75b6"/>
<text x="337.3" y="294.6" font-family="Liberation Sans, sans-serif" font-size="8.4" fill="#262626" font-weight="normal" font-style="normal" textLength="64.2" lengthAdjust="spacingAndGlyphs" stroke="#262626" stroke-width="0.22" >Normal feature</text>
<circle cx="332.6" cy="301.4" r="1.8" fill="#b01818"/>
<text x="337.3" y="304.0" font-family="Liberation Sans, sans-serif" font-size="8.4" fill="#262626" font-weight="normal" font-style="normal" textLength="69.7" lengthAdjust="spacingAndGlyphs" stroke="#262626" stroke-width="0.22" >Anomaly feature</text>
<text x="418.8" y="320.4" font-family="Liberation Sans, sans-serif" font-size="8.4" fill="#262626" font-weight="normal" font-style="normal" textLength="27.2" lengthAdjust="spacingAndGlyphs" stroke="#262626" stroke-width="0.22" >CMFM</text>
<polygon points="332.4,321.2 334.2,319.6 341.4,319.6 341.4,327.1 339.6,328.7 332.4,328.7" fill="#c00000" />
<text x="344.4" y="327.0" font-family="Liberation Sans, sans-serif" font-size="8.4" fill="#262626" font-weight="normal" font-style="normal" textLength="69.2" lengthAdjust="spacingAndGlyphs" stroke="#262626" stroke-width="0.22" >Anomaly feature</text>
<polygon points="328.2,343.5 333.2,337.0 374.4,337.0 369.4,343.5" fill="#8faadc" />
<polygon points="369.4,343.5 374.4,337.0 374.4,359.5 369.4,365.7" fill="#2f5597" />
<rect x="328.2" y="343.5" width="41.2" height="7.3" fill="#4472c4"/>
<rect x="328.2" y="350.8" width="41.2" height="7.5" fill="#c00000"/>
<rect x="328.2" y="358.3" width="41.2" height="7.4" fill="#4472c4"/>
<rect x="380.1" y="348.7" width="10" height="2.8" fill="#0a0a0a"/>
<polygon points="389.5,346.5 395.8,350.1 389.5,353.7" fill="#0a0a0a" />
<rect x="399" y="340" width="50" height="28" rx="4" fill="#b4d4e8" opacity="0.5"/>
<polygon points="401.5,342.0 406.5,336.0 447.7,336.0 442.7,342.0" fill="#8faadc" />
<polygon points="442.7,342.0 447.7,336.0 447.7,358.0 442.7,364.0" fill="#2f5597" />
<rect x="401.5" y="342.0" width="41.2" height="22" fill="#4a7fcf"/>
<rect x="401.5" y="349.8" width="41.2" height="0.8" fill="#2f5597"/>
<rect x="401.5" y="357.2" width="41.2" height="0.8" fill="#2f5597"/>
<rect x="615.0" y="83.1" width="30.6" height="16.1" rx="1.5" fill="#bf9000"/>
<text x="622.5" y="95.5" font-family="Liberation Sans, sans-serif" font-size="12.5" fill="#fff4c0" font-style="italic">L<tspan font-size="8" dy="1.8">rec</tspan></text>
<rect x="745.8" y="83.1" width="29.9" height="15.9" rx="1.5" fill="#bf9000"/>
<text x="752.5" y="95.5" font-family="Liberation Sans, sans-serif" font-size="12.5" fill="#fff4c0" font-style="italic">L<tspan font-size="8" dy="1.8">adv</tspan></text>
<polygon points="601.2,136.3 643.9,110.4 643.9,201.9 601.2,227.8" fill="url(#tex)" stroke="#222" stroke-width="0.9" stroke-linejoin="round" />
<text x="603.0" y="239.9" font-family="Liberation Sans, sans-serif" font-size="9.4" fill="#2a2a2a" font-weight="normal" font-style="italic" textLength="35.4" lengthAdjust="spacingAndGlyphs" stroke="#2a2a2a" stroke-width="0.22" >Recons.</text>
<text x="605.9" y="252.6" font-family="Liberation Sans, sans-serif" font-size="9.4" fill="#2a2a2a" font-weight="normal" font-style="italic" textLength="28.7" lengthAdjust="spacingAndGlyphs" stroke="#2a2a2a" stroke-width="0.22" >image</text>
<rect x="662.1" y="104.4" width="119" height="148" rx="6" fill="#a6a6a6"/>
<polygon points="671.5,137.2 699.5,109.2 707.4,109.2 679.4,137.2" fill="#bdbdbd" stroke="#2a2a2a" stroke-width="0.8" stroke-linejoin="round" /><polygon points="679.4,137.2 707.4,109.2 707.4,221.0 679.4,249.0" fill="#6c6c6c" stroke="#2a2a2a" stroke-width="0.8" stroke-linejoin="round" /><polygon points="671.5,137.2 679.4,137.2 679.4,249.0 671.5,249.0" fill="#8a8a8a" stroke="#2a2a2a" stroke-width="0.8" stroke-linejoin="round" /><text x="675.5" y="185.0" font-family="Liberation Sans, sans-serif" font-size="6.9" fill="#2a2a2a" text-anchor="middle" dominant-baseline="central" transform="rotate(-90 675.5 185.0)">32×32×32</text>
<polygon points="683.9,151.5 702.9,132.5 713.5,132.5 694.5,151.5" fill="#bdbdbd" stroke="#2a2a2a" stroke-width="0.8" stroke-linejoin="round" /><polygon points="694.5,151.5 713.5,132.5 713.5,208.2 694.5,227.2" fill="#6c6c6c" stroke="#2a2a2a" stroke-width="0.8" stroke-linejoin="round" /><polygon points="683.9,151.5 694.5,151.5 694.5,227.2 683.9,227.2" fill="#8a8a8a" stroke="#2a2a2a" stroke-width="0.8" stroke-linejoin="round" /><text x="689.2" y="185.0" font-family="Liberation Sans, sans-serif" font-size="6.9" fill="#2a2a2a" text-anchor="middle" dominant-baseline="central" transform="rotate(-90 689.2 185.0)">16×16×64</text>
<polygon points="697.9,159.9 711.3,146.5 725.9,146.5 712.5,159.9" fill="#bdbdbd" stroke="#2a2a2a" stroke-width="0.8" stroke-linejoin="round" /><polygon points="712.5,159.9 725.9,146.5 725.9,200.3 712.5,213.7" fill="#6c6c6c" stroke="#2a2a2a" stroke-width="0.8" stroke-linejoin="round" /><polygon points="697.9,159.9 712.5,159.9 712.5,213.7 697.9,213.7" fill="#8a8a8a" stroke="#2a2a2a" stroke-width="0.8" stroke-linejoin="round" /><text x="705.2" y="185.0" font-family="Liberation Sans, sans-serif" font-size="6.9" fill="#2a2a2a" text-anchor="middle" dominant-baseline="central" transform="rotate(-90 705.2 185.0)">8×8×128</text>
<polygon points="715.5,165.8 725.0,156.3 744.9,156.3 735.4,165.8" fill="#bdbdbd" stroke="#2a2a2a" stroke-width="0.8" stroke-linejoin="round" /><polygon points="735.4,165.8 744.9,156.3 744.9,194.6 735.4,204.1" fill="#6c6c6c" stroke="#2a2a2a" stroke-width="0.8" stroke-linejoin="round" /><polygon points="715.5,165.8 735.4,165.8 735.4,204.1 715.5,204.1" fill="#8a8a8a" stroke="#2a2a2a" stroke-width="0.8" stroke-linejoin="round" /><text x="725.5" y="185.0" font-family="Liberation Sans, sans-serif" font-size="6.9" fill="#2a2a2a" text-anchor="middle" dominant-baseline="central" transform="rotate(-90 725.5 185.0)">4×4×256</text>
<polygon points="737.7,169.5 744.9,162.3 778.5,162.3 771.3,169.5" fill="#bdbdbd" stroke="#2a2a2a" stroke-width="0.8" stroke-linejoin="round" /><polygon points="771.3,169.5 778.5,162.3 778.5,190.9 771.3,198.1" fill="#6c6c6c" stroke="#2a2a2a" stroke-width="0.8" stroke-linejoin="round" /><polygon points="737.7,169.5 761.3,169.5 761.3,198.1 737.7,198.1" fill="#8a8a8a" stroke="#2a2a2a" stroke-width="0.8" stroke-linejoin="round" /><polygon points="761.3,169.5 771.3,169.5 771.3,198.1 761.3,198.1" fill="#8a8a8a" stroke="#2a2a2a" stroke-width="0.8" stroke-linejoin="round" />
<text x="749.5" y="180.5" font-family="Liberation Sans, sans-serif" font-size="6.9" fill="#2a2a2a" text-anchor="middle" dominant-baseline="central" transform="rotate(-90 749.5 180.5)">1×1×512</text>
<text x="766.3" y="182.5" font-family="Liberation Sans, sans-serif" font-size="6.2" fill="#2a2a2a" text-anchor="middle" dominant-baseline="central" transform="rotate(-90 766.3 182.5)">Sigmoid</text>
<text x="716.9" y="242.9" font-family="Liberation Sans, sans-serif" font-size="9.8" fill="#1a1a1a" font-weight="bold" font-style="normal" textLength="57.1" lengthAdjust="spacingAndGlyphs" stroke="#1a1a1a" stroke-width="0.1" >Discriminator</text>
<line x1="597.1" y1="263.3" x2="778.2" y2="264.8" stroke="#111" stroke-width="1.6"/>
<polygon points="599.4,292.6 644.1,265.6 644.1,360.9 599.4,388.6" fill="url(#tex3)" stroke="#111" stroke-width="2.2" stroke-linejoin="round" />
<rect x="648.8" y="315.0" width="60" height="24.7" rx="3" fill="#70ad47"/>
<text x="655.0" y="325.3" font-family="Liberation Sans, sans-serif" font-size="8.8" fill="#1a2e10" font-weight="normal" font-style="normal" textLength="48.0" lengthAdjust="spacingAndGlyphs" stroke="#1a2e10" stroke-width="0.22" >Multimodal</text>
<text x="658.0" y="335.9" font-family="Liberation Sans, sans-serif" font-size="8.8" fill="#1a2e10" font-weight="normal" font-style="normal" textLength="41.5" lengthAdjust="spacingAndGlyphs" stroke="#1a2e10" stroke-width="0.22" >Inspction</text>
<polygon points="715.4,295.0 760.6,267.9 760.6,365.6 715.4,392.6" fill="#0a10ae" />
<ellipse cx="721.8" cy="331.5" rx="5" ry="11" fill="url(#hot)" transform="rotate(-22 721.8 331.5)"/>
<text x="598.7" y="405.6" font-family="Liberation Sans, sans-serif" font-size="9.4" fill="#2a2a2a" font-weight="normal" font-style="italic" textLength="34.8" lengthAdjust="spacingAndGlyphs" stroke="#2a2a2a" stroke-width="0.22" >Recons.</text>
<text x="602.2" y="417.4" font-family="Liberation Sans, sans-serif" font-size="9.4" fill="#2a2a2a" font-weight="normal" font-style="italic" textLength="27.8" lengthAdjust="spacingAndGlyphs" stroke="#2a2a2a" stroke-width="0.22" >image</text>
<text x="706.9" y="405.6" font-family="Liberation Sans, sans-serif" font-size="9.4" fill="#2a2a2a" font-weight="normal" font-style="italic" textLength="47.1" lengthAdjust="spacingAndGlyphs" stroke="#2a2a2a" stroke-width="0.22" >Inspection</text>
<text x="718.2" y="417.4" font-family="Liberation Sans, sans-serif" font-size="9.4" fill="#2a2a2a" font-weight="normal" font-style="italic" textLength="27.1" lengthAdjust="spacingAndGlyphs" stroke="#2a2a2a" stroke-width="0.22" >result</text>
</svg>
<div class="ln" style="left:700px;width:81.7px;text-align:right;top:33px;font-size:10.6px;line-height:12px;">4</div>
<div class="ln j " id="L1" style="left:68.20px;top:444.81px;width:759.04px;font-size:12.0px;line-height:12.28px;letter-spacing:0.100px;word-spacing:0.573px;transform:scaleX(0.94);transform-origin:0 0;"><span><span style="word-spacing:0">Fig. 2.</span><span style="display:inline-block;width:15.5px"></span>Overall architecture of the proposed FMR-Net method in the training and testing phases. FMR-Net adopts the GAN framework and consists of</span></div>
<div class="ln j " id="L2" style="left:68.20px;top:457.09px;width:759.04px;font-size:12.0px;line-height:12.28px;letter-spacing:0.100px;word-spacing:0.840px;transform:scaleX(0.94);transform-origin:0 0;"><span>an encoder, a CMFM, a GFRM, a decoder, and a discriminator. During training, defect-free images and synthetic images are propagated forward, while</span></div>
<div class="ln j " id="L3" style="left:68.20px;top:469.37px;width:759.04px;font-size:12.0px;line-height:12.28px;letter-spacing:0.100px;word-spacing:0.045px;transform:scaleX(0.94);transform-origin:0 0;"><span>real defective images are fed into the model only during testing. The brown boxes indicate losses. The encoder consists of five downsampling blocks, each</span></div>
<div class="ln j " id="L4" style="left:68.20px;top:481.65px;width:759.04px;font-size:12.0px;line-height:12.28px;letter-spacing:0.100px;word-spacing:0.887px;transform:scaleX(0.94);transform-origin:0 0;"><span>composed of a convolutional layer with a 4×4 convolution kernel and a stride of 2, a batch normalization layer and a leaky ReLU activation layer. The</span></div>
<div class="ln j " id="L5" style="left:68.20px;top:493.93px;width:759.04px;font-size:12.0px;line-height:12.28px;letter-spacing:0.074px;word-spacing:-0.400px;transform:scaleX(0.94);transform-origin:0 0;"><span>upsampling blocks in the decoder have a similar composition. The latent features pass through the CMFM and then enter the decoder. The flows from the two</span></div>
<div class="ln j " id="L6" style="left:68.20px;top:506.21px;width:759.04px;font-size:12.0px;line-height:12.28px;letter-spacing:0.081px;word-spacing:-0.400px;transform:scaleX(0.94);transform-origin:0 0;"><span>deepest intermediate downsampling layers in the encoder and the corresponding upsampling layers in the decoder pass into the GFRM, where the outputs are</span></div>
<div class="ln l " id="L7" style="left:68.20px;top:518.49px;width:759.04px;font-size:12.0px;line-height:12.28px;letter-spacing:0.100px;transform:scaleX(0.94);transform-origin:0 0;"><span>concatenated to the corresponding layers in the decoder. The discriminator is identical to the encoder.</span></div>
<div class="ln j " id="L8" style="left:68.30px;top:562.13px;width:347.90px;font-size:13.9px;line-height:16.55px;letter-spacing:-0.025px;word-spacing:-0.400px;"><span>simultaneously by means of high-quality texture reconstruction</span></div>
<div class="ln j " id="L9" style="left:68.30px;top:578.68px;width:347.90px;font-size:13.9px;line-height:16.55px;letter-spacing:0.100px;word-spacing:1.943px;"><span>and restoration. FMR-Net utilizes a CMFM for discrimina-</span></div>
<div class="ln j " id="L10" style="left:68.30px;top:595.23px;width:347.90px;font-size:13.9px;line-height:16.55px;letter-spacing:0.100px;word-spacing:2.626px;"><span>tive defect latent feature recognition and restoration and a</span></div>
<div class="ln j " id="L11" style="left:68.30px;top:611.78px;width:347.90px;font-size:13.9px;line-height:16.55px;letter-spacing:0.100px;word-spacing:3.667px;"><span>GFRM to suppress residual defect reconstruction on skip</span></div>
<div class="ln j " id="L12" style="left:68.30px;top:628.33px;width:347.90px;font-size:13.9px;line-height:16.55px;letter-spacing:0.075px;word-spacing:-0.400px;"><span>connection pathways. Moreover, a two-phase training strategy</span></div>
<div class="ln j " id="L13" style="left:68.30px;top:644.88px;width:347.90px;font-size:13.9px;line-height:16.55px;letter-spacing:0.100px;word-spacing:3.068px;"><span>and a multimodal inspection method are proposed for the</span></div>
<div class="ln j " id="L14" style="left:68.30px;top:661.43px;width:347.90px;font-size:13.9px;line-height:16.55px;letter-spacing:0.039px;word-spacing:-0.400px;"><span>reconstruction procedure and defect localization. Furthermore,</span></div>
<div class="ln j " id="L15" style="left:68.30px;top:677.98px;width:347.90px;font-size:13.9px;line-height:16.55px;letter-spacing:0.100px;word-spacing:2.862px;"><span>we propose and report the implementation of a multilevel</span></div>
<div class="ln j " id="L16" style="left:68.30px;top:694.53px;width:347.90px;font-size:13.9px;line-height:16.55px;letter-spacing:0.100px;word-spacing:1.132px;"><span>inspection method that can provide different levels of effec-</span></div>
<div class="ln j " id="L17" style="left:68.30px;top:711.08px;width:347.90px;font-size:13.9px;line-height:16.55px;letter-spacing:0.100px;word-spacing:-0.183px;"><span>tive fine-grained detection in cloud–edge collaboration mode.</span></div>
<div class="ln l " id="L18" style="left:68.30px;top:727.63px;width:347.90px;font-size:13.9px;line-height:16.55px;letter-spacing:0.100px;"><span>Subsequent parts of this article will provide more details.</span></div>
<div class="ln l c" id="L19" style="left:68.30px;top:761.93px;width:347.90px;font-size:13.9px;line-height:16.55px;letter-spacing:0.420px;"><span>III.<span style="display:inline-block;width:9px"></span>P<span class="sc">ROPOSED</span> FMR-N<span class="sc">ET</span> M<span class="sc">ETHODOLOGY</span></span></div>
<div class="ln j " id="L20" style="left:81.50px;top:782.93px;width:334.70px;font-size:13.9px;line-height:16.55px;letter-spacing:0.100px;word-spacing:1.738px;"><span>In this section, the proposed FMR-Net approach is intro-</span></div>
<div class="ln j " id="L21" style="left:68.30px;top:799.48px;width:347.90px;font-size:13.9px;line-height:16.55px;letter-spacing:0.100px;word-spacing:3.150px;"><span>duced in detail. First, the overall framework of FMR-Net</span></div>
<div class="ln j " id="L22" style="left:68.30px;top:816.03px;width:347.90px;font-size:13.9px;line-height:16.55px;letter-spacing:0.100px;word-spacing:2.261px;"><span>is briefly illustrated. Then, its main modules and contribu-</span></div>
<div class="ln j " id="L23" style="left:68.30px;top:832.58px;width:347.90px;font-size:13.9px;line-height:16.55px;letter-spacing:0.100px;word-spacing:2.582px;"><span>tions, including the artificial synthetic defect database, the</span></div>
<div class="ln j " id="L24" style="left:68.30px;top:849.13px;width:347.90px;font-size:13.9px;line-height:16.55px;letter-spacing:0.100px;word-spacing:0.037px;"><span>contrastive-learning-based memory feature module (CMFM),</span></div>
<div class="ln j " id="L25" style="left:68.30px;top:865.68px;width:347.90px;font-size:13.9px;line-height:16.55px;letter-spacing:0.100px;word-spacing:2.410px;"><span>and the global feature rearrangement module (GFRM), are</span></div>
<div class="ln j " id="L26" style="left:68.30px;top:882.23px;width:347.90px;font-size:13.9px;line-height:16.55px;letter-spacing:0.027px;word-spacing:-0.400px;"><span>presented in detail. Finally, the two-phase training strategy and</span></div>
<div class="ln l " id="L27" style="left:68.30px;top:898.78px;width:347.90px;font-size:13.9px;line-height:16.55px;letter-spacing:0.100px;"><span>multimodal inspection method are described.</span></div>
<div class="ln l " id="L28" style="left:68.30px;top:936.63px;width:347.90px;font-size:13.9px;line-height:16.55px;letter-spacing:0.100px;"><span><i>A.<span style="display:inline-block;width:7px"></span>Overall architecture of the FMR-Net model</i></span></div>
<div class="ln j " id="L29" style="left:81.50px;top:957.43px;width:334.70px;font-size:13.9px;line-height:16.55px;letter-spacing:0.100px;word-spacing:0.522px;"><span>There are two key restrictions of reconstruction-based tex-</span></div>
<div class="ln j " id="L30" style="left:68.30px;top:973.98px;width:347.90px;font-size:13.9px;line-height:16.55px;letter-spacing:0.100px;word-spacing:1.478px;"><span>tural defect inspection methods. The first is that the current</span></div>
<div class="ln j " id="L31" style="left:68.30px;top:990.53px;width:347.90px;font-size:13.9px;line-height:16.55px;letter-spacing:0.100px;word-spacing:1.106px;"><span>mainstream unsupervised deep learning models rely on only</span></div>
<div class="ln j " id="L32" style="left:68.30px;top:1007.08px;width:347.90px;font-size:13.9px;line-height:16.55px;letter-spacing:0.100px;word-spacing:0.930px;"><span>defect-free samples for training, resulting in a lack of defect</span></div>
<div class="ln j " id="L33" style="left:68.30px;top:1023.63px;width:347.90px;font-size:13.9px;line-height:16.55px;letter-spacing:0.100px;word-spacing:1.290px;"><span>recognition ability in the resulting model; thus, defects tend</span></div>
<div class="ln j " id="L34" style="left:433.80px;top:562.13px;width:347.90px;font-size:13.9px;line-height:16.55px;letter-spacing:0.100px;word-spacing:0.334px;"><span>to remain unrepaired during reconstruction, leading to misin-</span></div>
<div class="ln j " id="L35" style="left:433.80px;top:578.68px;width:347.90px;font-size:13.9px;line-height:16.55px;letter-spacing:0.098px;word-spacing:-0.400px;"><span>spection. The second is the stability of the normal background</span></div>
<div class="ln j " id="L36" style="left:433.80px;top:595.23px;width:347.90px;font-size:13.9px;line-height:16.55px;letter-spacing:0.100px;word-spacing:2.943px;"><span>textural profile during the reconstruction procedure; if the</span></div>
<div class="ln j " id="L37" style="left:433.80px;top:611.78px;width:347.90px;font-size:13.9px;line-height:16.55px;letter-spacing:0.100px;word-spacing:0.353px;"><span>normal texture is reconstructed imperfectly, pseudodefects or</span></div>
<div class="ln j " id="L38" style="left:433.80px;top:628.33px;width:347.90px;font-size:13.9px;line-height:16.55px;letter-spacing:0.100px;word-spacing:1.206px;"><span>overinspection may occur. In this work, the novel FMR-Net</span></div>
<div class="ln l " id="L39" style="left:433.80px;top:644.88px;width:347.90px;font-size:13.9px;line-height:16.55px;letter-spacing:0.100px;"><span>model is proposed to address these shortcomings.</span></div>
<div class="ln j " id="L40" style="left:447.00px;top:668.53px;width:334.70px;font-size:13.9px;line-height:16.55px;letter-spacing:0.100px;word-spacing:0.493px;"><span>The overall architecture of FMR-Net is shown in Fig. 2. A</span></div>
<div class="ln j " id="L41" style="left:433.80px;top:685.08px;width:347.90px;font-size:13.9px;line-height:16.55px;letter-spacing:0.014px;word-spacing:-0.400px;"><span>GAN-integrated reconstruction model is employed as the basic</span></div>
<div class="ln j " id="L42" style="left:433.80px;top:701.63px;width:347.90px;font-size:13.9px;line-height:16.55px;letter-spacing:0.100px;word-spacing:0.700px;"><span>pipeline. The generator network is composed of an encoding</span></div>
<div class="ln j " id="L43" style="left:433.80px;top:718.18px;width:347.90px;font-size:13.9px;line-height:16.55px;letter-spacing:0.100px;word-spacing:-0.263px;"><span>module, a CMFM, a GFRM and a decoding module. First, the</span></div>
<div class="ln j " id="L44" style="left:433.80px;top:734.73px;width:347.90px;font-size:13.9px;line-height:16.55px;letter-spacing:0.051px;word-spacing:-0.400px;"><span>encoding module extracts multiscale representative features of</span></div>
<div class="ln j " id="L45" style="left:433.80px;top:751.28px;width:347.90px;font-size:13.9px;line-height:16.55px;letter-spacing:0.100px;word-spacing:0.584px;"><span>the input image. Then, the novel CMFM is applied for latent</span></div>
<div class="ln j " id="L46" style="left:433.80px;top:767.83px;width:347.90px;font-size:13.9px;line-height:16.55px;letter-spacing:0.062px;word-spacing:-0.400px;"><span>feature restoration. Based on contrastive learning, feature con-</span></div>
<div class="ln j " id="L47" style="left:433.80px;top:784.38px;width:347.90px;font-size:13.9px;line-height:16.55px;letter-spacing:0.025px;word-spacing:-0.400px;"><span>straints in the CMFM can improve the discriminative ability of</span></div>
<div class="ln j " id="L48" style="left:433.80px;top:800.93px;width:347.90px;font-size:13.9px;line-height:16.55px;letter-spacing:0.100px;word-spacing:-0.141px;"><span>the features. The memory bank in the CMFM, which contains</span></div>
<div class="ln j " id="L49" style="left:433.80px;top:817.48px;width:347.90px;font-size:13.9px;line-height:16.55px;letter-spacing:0.100px;word-spacing:0.185px;"><span>the typical normal texture mode, can be used to substitute for</span></div>
<div class="ln j " id="L50" style="left:433.80px;top:834.03px;width:347.90px;font-size:13.9px;line-height:16.55px;letter-spacing:0.100px;word-spacing:1.986px;"><span>anomalous features and obtain anomaly scores at the patch</span></div>
<div class="ln j " id="L51" style="left:433.80px;top:850.58px;width:347.90px;font-size:13.9px;line-height:16.55px;letter-spacing:0.069px;word-spacing:-0.400px;"><span>level. Regarding the residuals of low-level intermediate defect</span></div>
<div class="ln j " id="L52" style="left:433.80px;top:867.13px;width:347.90px;font-size:13.9px;line-height:16.55px;letter-spacing:0.100px;word-spacing:1.070px;"><span>features on the skip pathways, the novel GFRM is proposed</span></div>
<div class="ln j " id="L53" style="left:433.80px;top:883.68px;width:347.90px;font-size:13.9px;line-height:16.55px;letter-spacing:0.100px;word-spacing:1.968px;"><span>to suppress them. Finally, the decoding module utilizes the</span></div>
<div class="ln j " id="L54" style="left:433.80px;top:900.23px;width:347.90px;font-size:13.9px;line-height:16.55px;letter-spacing:0.100px;word-spacing:2.385px;"><span>restored defect-free features to reconstruct the input defect</span></div>
<div class="ln l " id="L55" style="left:433.80px;top:916.78px;width:347.90px;font-size:13.9px;line-height:16.55px;letter-spacing:0.100px;"><span>image into the background texture.</span></div>
<div class="ln j " id="L56" style="left:447.00px;top:940.83px;width:334.70px;font-size:13.9px;line-height:16.55px;letter-spacing:0.100px;word-spacing:1.323px;"><span>In the training stage, the whole model is optimized under</span></div>
<div class="ln j " id="L57" style="left:433.80px;top:957.38px;width:347.90px;font-size:13.9px;line-height:16.55px;letter-spacing:0.100px;word-spacing:1.865px;"><span>the supervision of three losses, i.e., the latent loss <i class="m">L</i><sub class="ms">lat</sub>, the</span></div>
<div class="ln j " id="L58" style="left:433.80px;top:973.93px;width:347.90px;font-size:13.9px;line-height:16.55px;letter-spacing:0.100px;word-spacing:1.857px;"><span>reconstruction loss <i class="m">L</i><sub class="ms">rec</sub>, and the adversarial loss <i class="m">L</i><sub class="ms">adv</sub>. Two</span></div>
<div class="ln j " id="L59" style="left:433.80px;top:990.48px;width:347.90px;font-size:13.9px;line-height:16.55px;letter-spacing:0.100px;word-spacing:-0.046px;"><span>types of samples are used for training: defect-free images and</span></div>
<div class="ln j " id="L60" style="left:433.80px;top:1007.03px;width:347.90px;font-size:13.9px;line-height:16.55px;letter-spacing:0.100px;word-spacing:1.152px;"><span>artificial synthetic defect images used to simulate the defect</span></div>
<div class="ln j " id="L61" style="left:433.80px;top:1023.58px;width:347.90px;font-size:13.9px;line-height:16.55px;letter-spacing:0.100px;word-spacing:2.446px;"><span>mode. A novel two-phase training strategy, which includes</span></div>

</body></html>
